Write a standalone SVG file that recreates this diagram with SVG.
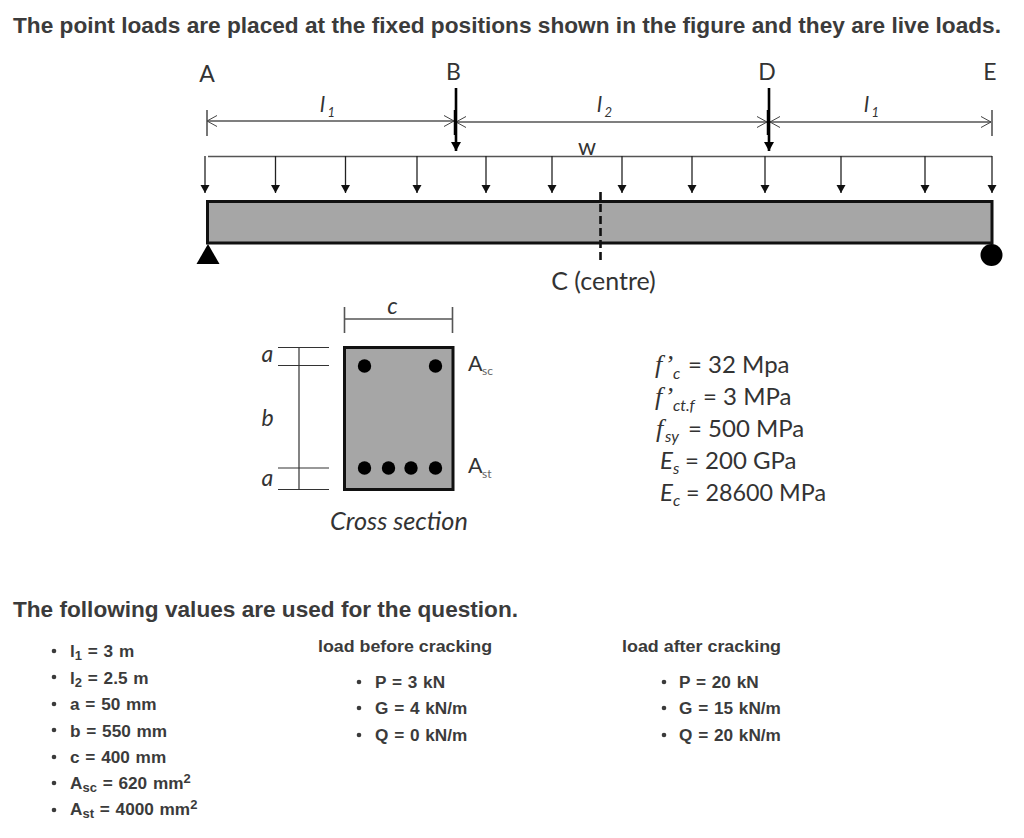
<svg xmlns="http://www.w3.org/2000/svg" width="1024" height="838" viewBox="0 0 1024 838">
<defs>
<marker id="udl" markerUnits="userSpaceOnUse" markerWidth="10" markerHeight="10" refX="8" refY="4.500" orient="auto"><path d="M0 0L8 4.500L0 9Z" fill="#111"/></marker>
<marker id="load" markerUnits="userSpaceOnUse" markerWidth="11" markerHeight="11" refX="9" refY="5" orient="auto"><path d="M0 0L9 5L0 10Z" fill="#000"/></marker>
<marker id="open" markerUnits="userSpaceOnUse" markerWidth="14" markerHeight="14" refX="11" refY="6" orient="auto-start-reverse"><path d="M1 0.500L11 6L1 11.500" fill="none" stroke="#444" stroke-width="1"/></marker>
</defs>
<style>
.h{font:bold 21.5px "Liberation Sans",Arial,sans-serif;fill:#3b3b3b}
.t{font:bold 16px "Liberation Sans",Arial,sans-serif;fill:#3b3b3b}
.b{font:bold 17.2px "Liberation Sans",Arial,sans-serif;fill:#3b3b3b;word-spacing:1px}
.f{font-family:Lato,"Open Sans",sans-serif;fill:#333}
.s{font-family:"Liberation Serif",serif;font-style:italic;fill:#333}
.lab{font-size:23px}
.it{font-style:italic}
.dim{fill:none;stroke:#555;stroke-width:1.6}
.thin{fill:none;stroke:#333;stroke-width:1.2}
.udl{fill:none;stroke:#222;stroke-width:1.3;marker-end:url(#udl)}
.pl{fill:none;stroke:#000;stroke-width:2.6;marker-end:url(#load)}
.conc{fill:#a6a6a6;stroke:#111;stroke-width:3}
</style>
<rect width="1024" height="838" fill="#fff"/>
<text class="h" x="13" y="33" textLength="988" lengthAdjust="spacingAndGlyphs">The point loads are placed at the fixed positions shown in the figure and they are live loads.</text>

<g id="beam"><rect class="conc" x="207.500" y="201.500" width="784.500" height="41.500"/></g>
<g id="support-a"><path d="M208 244L219.500 264H196.500Z" fill="#000"/></g>
<g id="support-e"><circle cx="991.500" cy="255" r="11" fill="#000"/></g>
<g id="section-c"><text class="f" x="603.500" y="289.500" font-size="25" text-anchor="middle">C (centre)</text></g>
<g id="node-a"><text class="f lab" x="207" y="82" text-anchor="middle">A</text></g>
<g id="node-b"><text class="f lab" x="453.500" y="80" text-anchor="middle">B</text></g>
<g id="node-d"><text class="f lab" x="767" y="80" text-anchor="middle">D</text></g>
<g id="node-e"><text class="f lab" x="990" y="80" text-anchor="middle">E</text></g>

<g id="connectors">
<path class="dim" d="M207 110V136M992 110V136"/>
<path class="dim" d="M207 121H454" marker-start="url(#open)" marker-end="url(#open)"/>
<path class="dim" d="M456 122H767" marker-start="url(#open)" marker-end="url(#open)"/>
<path class="dim" d="M770 122H991" marker-start="url(#open)" marker-end="url(#open)"/>
<path d="M454.500 110V135M767.500 110V135" stroke="#000" stroke-width="1.500"/>
<path class="pl" d="M456 88V151"/>
<path class="pl" d="M769 88V151"/>
<path d="M208 156.500H992" fill="none" stroke="#555" stroke-width="1.600"/>
<path class="udl" d="M205 156V193"/><path class="udl" d="M275.500 156V193"/><path class="udl" d="M345.500 156V193"/><path class="udl" d="M417 156V193"/><path class="udl" d="M486 156V193"/><path class="udl" d="M552 156V193"/><path class="udl" d="M622 156V193"/><path class="udl" d="M692 156V193"/><path class="udl" d="M765 156V193"/><path class="udl" d="M841 156V193"/><path class="udl" d="M925 156V193"/><path class="udl" d="M992 156V193"/>
<path d="M600.500 192V260" fill="none" stroke="#111" stroke-width="2.600" stroke-dasharray="8 4"/>
<path class="dim" d="M344.500 319H452.500M344.500 307V333M452.500 307V333"/>
<path class="thin" d="M278 347.500H329M278 365.500H329M278 468H329M278 489.500H329M299 347.500V489.500"/>
</g>

<g id="dim-labels">
<text class="f it" x="320" y="112" font-size="22">l</text><text class="f it" x="327.500" y="117" font-size="13">1</text>
<text class="f it" x="597" y="112" font-size="22">l</text><text class="f it" x="604.500" y="117" font-size="13">2</text>
<text class="f it" x="864" y="112" font-size="22">l</text><text class="f it" x="871.500" y="117" font-size="13">1</text>
<text class="f" x="587" y="155" font-size="23" text-anchor="middle">w</text>
<text class="f it" x="392.500" y="314" font-size="23" text-anchor="middle">c</text>
<text class="f it" x="267.500" y="362" font-size="23" text-anchor="middle">a</text>
<text class="f it" x="267.500" y="426" font-size="23" text-anchor="middle">b</text>
<text class="f it" x="267.500" y="486" font-size="23" text-anchor="middle">a</text>
</g>

<g id="cross-section">
<rect class="conc" x="344.500" y="347.500" width="108.500" height="142"/>
<g fill="#000"><circle cx="364.500" cy="366" r="6.700"/><circle cx="435.500" cy="366" r="6.700"/><circle cx="364.500" cy="468" r="6.700"/><circle cx="388.500" cy="468" r="6.700"/><circle cx="411" cy="468" r="6.700"/><circle cx="435.500" cy="468" r="6.700"/></g>
<text class="f" x="468" y="371" font-size="21.500">A</text><text class="f" x="482" y="375" font-size="12" style="fill:#666">sc</text>
<text class="f" x="468" y="473" font-size="21.500">A</text><text class="f" x="482" y="478" font-size="12" style="fill:#666">st</text>
<text class="f it" x="399" y="530" font-size="25.300" text-anchor="middle">Cross section</text>
</g>

<g id="properties" font-size="24">
<text class="s" x="655" y="373" font-size="26">f’</text><text class="f it" x="673" y="379" font-size="16">c</text><text class="f" x="688" y="373">= 32 Mpa</text>
<text class="s" x="655" y="405" font-size="26">f’</text><text class="f it" x="673" y="411" font-size="16">ct.f</text><text class="f" x="703" y="405">= 3 MPa</text>
<text class="s" x="656" y="437" font-size="26">f</text><text class="f it" x="665" y="442" font-size="16">sy</text><text class="f" x="688" y="437">= 500 MPa</text>
<text class="f it" x="660" y="469">E</text><text class="f it" x="673" y="474" font-size="16">s</text><text class="f" x="685" y="469">= 200 GPa</text>
<text class="f it" x="660" y="501">E</text><text class="f it" x="673" y="506" font-size="16">c</text><text class="f" x="686" y="501" textLength="140" lengthAdjust="spacingAndGlyphs">= 28600 MPa</text>
</g>

<text class="h" x="13" y="616.500" textLength="505" lengthAdjust="spacingAndGlyphs">The following values are used for the question.</text>
<text class="t" x="318" y="652" textLength="174" lengthAdjust="spacingAndGlyphs">load before cracking</text>
<text class="t" x="622" y="652" textLength="159" lengthAdjust="spacingAndGlyphs">load after cracking</text>

<g fill="#3b3b3b">
<circle cx="54" cy="651" r="2.300"/><circle cx="54" cy="677" r="2.300"/><circle cx="54" cy="704" r="2.300"/><circle cx="54" cy="730" r="2.300"/><circle cx="54" cy="757" r="2.300"/><circle cx="54" cy="783" r="2.300"/><circle cx="54" cy="810" r="2.300"/>
<circle cx="359" cy="682" r="2.300"/><circle cx="359" cy="708" r="2.300"/><circle cx="359" cy="735" r="2.300"/>
<circle cx="664" cy="682" r="2.300"/><circle cx="664" cy="708" r="2.300"/><circle cx="664" cy="735" r="2.300"/>
</g>
<text class="b" x="70" y="657">l<tspan dy="3" font-size="13">1</tspan><tspan dy="-3"> = 3 m</tspan></text>
<text class="b" x="70" y="683.500">l<tspan dy="3" font-size="13">2</tspan><tspan dy="-3"> = 2.5 m</tspan></text>
<text class="b" x="70" y="710">a = 50 mm</text>
<text class="b" x="70" y="736.500">b = 550 mm</text>
<text class="b" x="70" y="763">c = 400 mm</text>
<text class="b" x="70" y="789">A<tspan dy="3" font-size="13">sc</tspan><tspan dy="-3"> = 620 mm</tspan><tspan dy="-6" font-size="13">2</tspan></text>
<text class="b" x="70" y="815">A<tspan dy="3" font-size="13">st</tspan><tspan dy="-3"> = 4000 mm</tspan><tspan dy="-6" font-size="13">2</tspan></text>
<text class="b" x="375" y="688">P = 3 kN</text>
<text class="b" x="375" y="714">G = 4 kN/m</text>
<text class="b" x="375" y="741">Q = 0 kN/m</text>
<text class="b" x="679" y="688">P = 20 kN</text>
<text class="b" x="679" y="714">G = 15 kN/m</text>
<text class="b" x="679" y="741">Q = 20 kN/m</text>
</svg>
